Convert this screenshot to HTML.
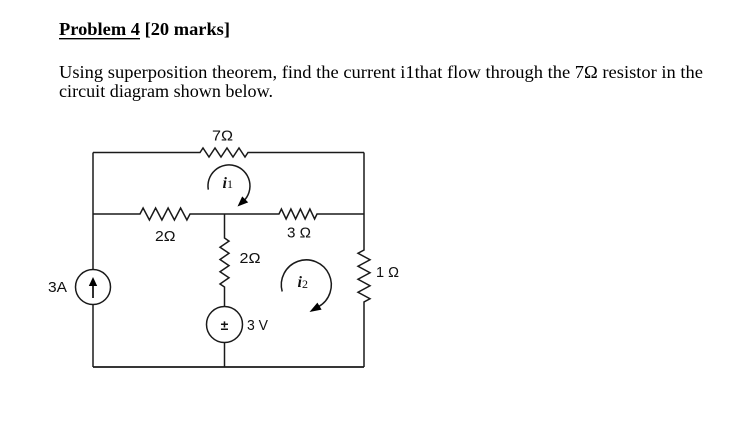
<!DOCTYPE html>
<html>
<head>
<meta charset="utf-8">
<style>
html,body{margin:0;padding:0;background:#fff;}
body{width:747px;height:438px;overflow:hidden;}
svg{display:block;}
</style>
</head>
<body>
<svg width="747" height="438" viewBox="0 0 747 438" xmlns="http://www.w3.org/2000/svg">
<rect width="747" height="438" fill="#fff"/>
<!-- Header text -->
<text x="59" y="35" font-family="Liberation Serif, serif" font-weight="bold" font-size="18" fill="#000" textLength="171" lengthAdjust="spacingAndGlyphs">Problem 4 [20 marks]</text>
<line x1="59" y1="38.7" x2="140" y2="38.7" stroke="#000" stroke-width="1.3"/>
<text x="59" y="78" font-family="Liberation Serif, serif" font-size="18" fill="#000" textLength="644" lengthAdjust="spacingAndGlyphs">Using superposition theorem, find the current i1that flow through the 7Ω resistor in the</text>
<text x="59" y="97" font-family="Liberation Serif, serif" font-size="18" fill="#000" textLength="214" lengthAdjust="spacingAndGlyphs">circuit diagram shown below.</text>

<g stroke="#1a1a1a" stroke-width="1.5" fill="none" stroke-linejoin="miter">
  <!-- top wire with 7 ohm -->
  <polyline points="93,152.5 200,152.5 203,148 209,157 215,148 221,157 227,148 233,157 239,148 245,157 248,152.5 364,152.5"/>
  <!-- right wire with 1 ohm -->
  <polyline points="364,152.5 364,250 358,253.25 370,259.75 358,266.25 370,272.75 358,279.25 370,285.75 358,292.25 370,298.75 364,302 364,367"/>
  <!-- bottom wire -->
  <line x1="93" y1="367" x2="364" y2="367" stroke-width="1.8"/>
  <!-- left wire -->
  <line x1="93" y1="152.5" x2="93" y2="269.5"/>
  <line x1="93" y1="304.5" x2="93" y2="367"/>
  <!-- middle horizontal wire with 2 ohm and 3 ohm -->
  <polyline points="93,214 140,214 143.1,208 149.4,220 155.6,208 161.9,220 168.1,208 174.4,220 180.6,208 186.9,220 190,214 279,214 281.4,209 286.1,219 290.9,209 295.6,219 300.4,209 305.1,219 309.9,209 314.6,219 317,214 364,214"/>
  <!-- middle vertical with 2 ohm -->
  <polyline points="224.5,214 224.5,238 229,241.1 220,247.2 229,253.3 220,259.5 229,265.6 220,271.7 229,277.8 220,284 224.5,287 224.5,306.5"/>
  <line x1="224.5" y1="342.5" x2="224.5" y2="367"/>
  <!-- current source -->
  <circle cx="93" cy="287" r="17.5"/>
  <line x1="93" y1="298" x2="93" y2="284" stroke-width="1.8"/>
  <!-- voltage source -->
  <circle cx="224.5" cy="324.5" r="18"/>
  <!-- i1 loop -->
  <path d="M208.3,189.6 A21,21 0 1 1 243.8,200.8"/>
  <!-- i2 loop -->
  <path d="M282.2,291.5 A25,25 0 1 1 318.5,306.7"/>
</g>
<!-- arrowheads -->
<polygon points="93,277 88.8,286 97.2,286" fill="#000"/>
<polygon points="237.5,206.5 248.2,202.4 242.2,196.4" fill="#000"/>
<polygon points="309.5,312 321.6,309.6 317.4,302.6" fill="#000"/>

<!-- circuit labels -->
<g font-family="Liberation Sans, Arial, sans-serif" font-size="14.5" fill="#111">
  <text x="212" y="140.5" textLength="21" lengthAdjust="spacingAndGlyphs">7Ω</text>
  <text x="155" y="241" textLength="20.5" lengthAdjust="spacingAndGlyphs">2Ω</text>
  <text x="287" y="237.5" textLength="24" lengthAdjust="spacingAndGlyphs">3 Ω</text>
  <text x="239.5" y="263" textLength="21" lengthAdjust="spacingAndGlyphs">2Ω</text>
  <text x="376" y="277" textLength="23" lengthAdjust="spacingAndGlyphs">1 Ω</text>
  <text x="48" y="292" textLength="19" lengthAdjust="spacingAndGlyphs">3A</text>
  <text x="247" y="330" textLength="21" lengthAdjust="spacingAndGlyphs">3 V</text>
  <text x="224.5" y="330" text-anchor="middle" font-weight="bold" font-size="14">±</text>
</g>
<!-- loop current labels -->
<g font-family="Liberation Serif, serif" fill="#111">
  <text x="222.5" y="188" font-style="italic" font-weight="bold" font-size="16">i</text>
  <text x="227" y="188" font-size="12">1</text>
  <text x="297.5" y="287" font-style="italic" font-weight="bold" font-size="16">i</text>
  <text x="302" y="288" font-size="12">2</text>
</g>
</svg>
</body>
</html>
